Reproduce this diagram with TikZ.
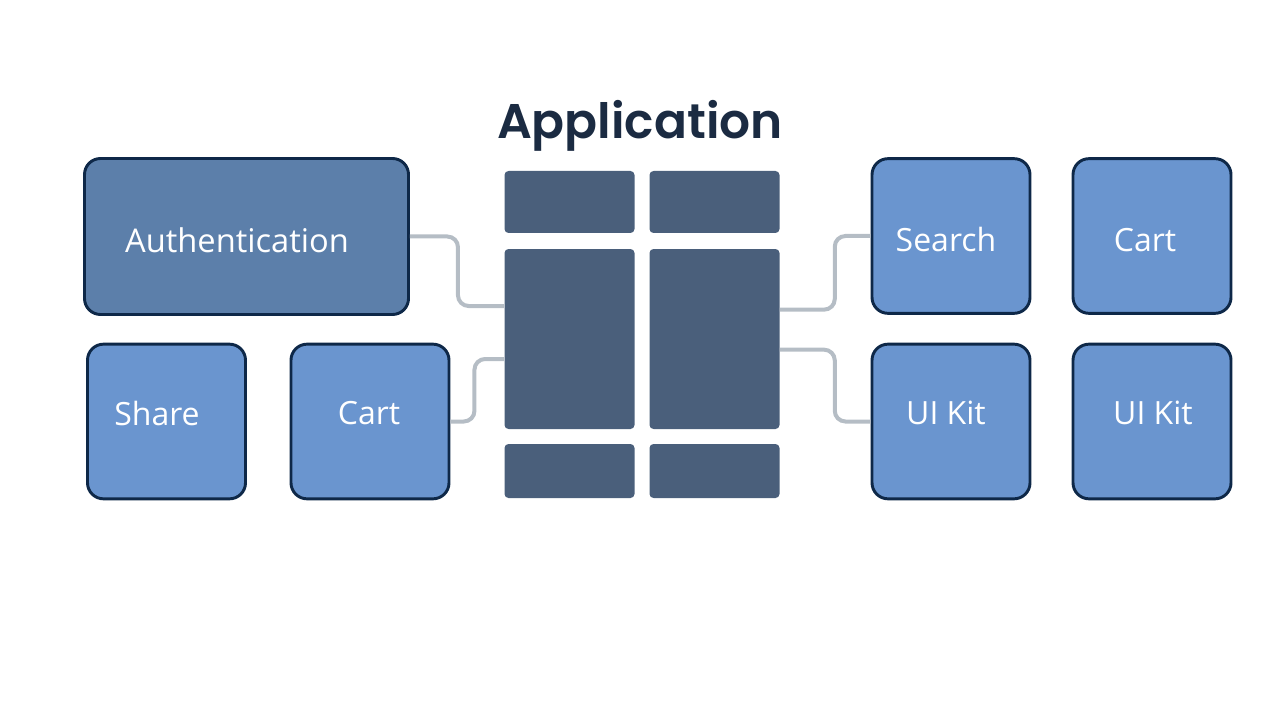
\documentclass[tikz,border=0pt]{standalone}
\usepackage{fontspec}
\setmainfont{Open Sans}
\newfontfamily\titlefont{Poppins SemiBold}
\definecolor{boxblue}{HTML}{6A95CF}
\definecolor{authblue}{HTML}{5C7FAA}
\definecolor{edgeblue}{HTML}{0E2848}
\definecolor{slateblock}{HTML}{4A5F7B}
\definecolor{wiregray}{HTML}{B5BDC5}
\definecolor{titleink}{HTML}{1B2B42}
\tikzset{
    modbox/.style={draw=edgeblue, line width=2.2pt, fill=boxblue, rounded corners=12pt, inner sep=0pt, minimum width=118.5pt, minimum height=116pt},
    block/.style={fill=slateblock, rounded corners=3pt, inner sep=0pt, minimum width=97.5pt},
    wire/.style={draw=wiregray, line width=3pt, rounded corners=8pt},
    caption/.style={text=white, font=\fontsize{24}{28}\selectfont, inner sep=0pt}
}
\begin{document}
\begin{tikzpicture}[x=0.75pt, y=-0.75pt]
        \useasboundingbox (0, 0) rectangle (1280, 720);
        \node[font=\titlefont\fontsize{36.5}{40}\selectfont, text=titleink, inner sep=0pt] (title) at (640, 126) {Application};
        % left modules
        \node[modbox, fill=authblue, minimum width=243pt, minimum height=117pt] (auth) at (246.5, 236.5) {};
        \node[modbox] (share) at (166.5, 421.5) {};
        \node[modbox] (cartleft) at (370, 421.5) {};
        % middle blocks
        \node[block, minimum height=46.5pt] (topl) at (569.5, 202) {};
        \node[block, minimum height=46.5pt] (topr) at (714.5, 202) {};
        \node[block, minimum height=135pt] (midl) at (569.5, 339) {};
        \node[block, minimum height=135pt] (midr) at (714.5, 339) {};
        \node[block, minimum height=40.5pt] (botl) at (569.5, 471) {};
        \node[block, minimum height=40.5pt] (botr) at (714.5, 471) {};
        % right modules
        \node[modbox] (search) at (951, 236) {};
        \node[modbox] (cartright) at (1152, 236) {};
        \node[modbox] (kitleft) at (951, 421.5) {};
        \node[modbox] (kitright) at (1152, 421.5) {};
        % labels
        \node[caption, font=\fontsize{24.5}{28}\selectfont] (authlabel) at (237, 240) {Authentication};
        \node[caption] (sharelabel) at (157, 413) {Share};
        \node[caption] (cartleftlabel) at (369, 413) {Cart};
        \node[caption] (searchlabel) at (946, 240) {Search};
        \node[caption] (cartrightlabel) at (1145, 240) {Cart};
        \node[caption] (kitleftlabel) at (946, 413) {UI Kit};
        \node[caption] (kitrightlabel) at (1153, 413) {UI Kit};
        % connectors
        \draw[wire] (auth.east) -- ++(48, 0) |- ([yshift=24.75pt]midl.west);
        \draw[wire] (cartleft.east) -- ++(24, 0) |- ([yshift=-15pt]midl.west);
        \draw[wire] ([yshift=22pt]midr.east) -- ++(55, 0) |- (search.west);
        \draw[wire] ([yshift=-8pt]midr.east) -- ++(55, 0) |- (kitleft.west);
\end{tikzpicture}
\end{document}
